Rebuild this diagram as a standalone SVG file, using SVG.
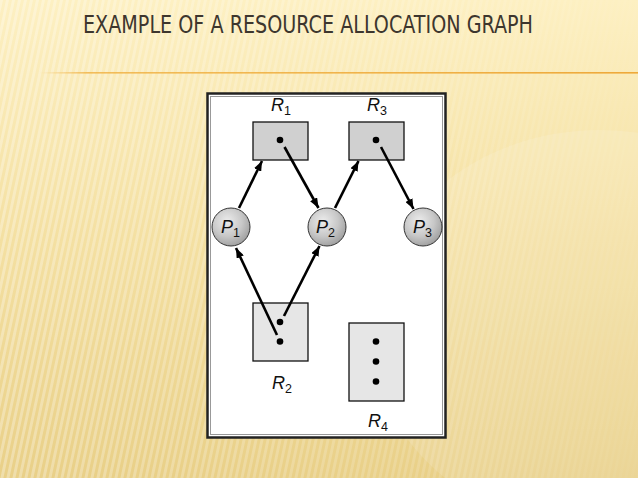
<svg xmlns="http://www.w3.org/2000/svg" width="638" height="478" viewBox="0 0 638 478">
<defs>
<linearGradient id="bg" x1="0" y1="0" x2="0" y2="1">
<stop offset="0" stop-color="#fdf0c2"/>
<stop offset="0.5" stop-color="#f4e0a2"/>
<stop offset="1" stop-color="#e9d088"/>
</linearGradient>
<pattern id="stripes" width="6" height="40" patternUnits="userSpaceOnUse" patternTransform="skewX(-12)">
<rect x="0" y="0" width="3" height="40" fill="#ffffff" opacity="0.3"/>
</pattern>
<linearGradient id="fadeL" x1="0" y1="0" x2="1" y2="0">
<stop offset="0" stop-color="#fff" stop-opacity="1"/>
<stop offset="0.7" stop-color="#fff" stop-opacity="0.45"/>
<stop offset="1" stop-color="#fff" stop-opacity="0.1"/>
</linearGradient>
<mask id="stripeMask"><rect x="0" y="0" width="638" height="478" fill="url(#fadeL)"/></mask>
<linearGradient id="rule" x1="0" y1="0" x2="1" y2="0">
<stop offset="0" stop-color="#f2b449" stop-opacity="0"/>
<stop offset="0.08" stop-color="#f0b040" stop-opacity="0.8"/>
<stop offset="1" stop-color="#eea93a"/>
</linearGradient>
<radialGradient id="ball" cx="0.4" cy="0.35" r="0.65">
<stop offset="0" stop-color="#ececec"/>
<stop offset="0.6" stop-color="#c8c8c8"/>
<stop offset="1" stop-color="#a3a3a3"/>
</radialGradient>
<marker id="ah" viewBox="0 0 10 8" refX="10" refY="4" markerWidth="10" markerHeight="8" markerUnits="userSpaceOnUse" orient="auto">
<path d="M0,0 L10,4 L0,8 Z" fill="#000"/>
</marker>
<style>
.title{font-family:"DejaVu Sans Condensed","Liberation Sans",Arial,sans-serif;font-stretch:condensed;font-size:25px;fill:#3d362e;}
.res1{fill:#d0d0d0;stroke:#111;stroke-width:1.3;}
.res2{fill:#e6e6e6;stroke:#111;stroke-width:1.3;}
.proc{fill:url(#ball);stroke:#333;stroke-width:1;}
.dot{fill:#000;}
.lbl{font-family:"Liberation Sans",Arial,sans-serif;font-style:italic;font-size:18px;fill:#111;}
.sub{font-size:12.5px;font-style:normal;}
.edge{stroke:#000;stroke-width:2.6;fill:none;marker-end:url(#ah);}
</style>
</defs>
<rect x="0" y="0" width="638" height="478" fill="url(#bg)"/>
<rect x="0" y="0" width="638" height="478" fill="url(#stripes)" mask="url(#stripeMask)"/>
<ellipse cx="600" cy="330" rx="230" ry="200" fill="#ffffff" opacity="0.12"/>
<text class="title" x="83" y="33" textLength="450" lengthAdjust="spacingAndGlyphs">EXAMPLE OF A RESOURCE ALLOCATION GRAPH</text>
<rect x="40" y="72" width="598" height="1.6" fill="url(#rule)"/>

<g id="frame">
<rect x="207.5" y="93.5" width="238" height="344" fill="#ffffff" stroke="#222" stroke-width="2.5"/>
<rect x="210.5" y="96.5" width="232" height="338" fill="none" stroke="#999" stroke-width="1"/>
</g>

<g id="R1">
<rect class="res1" x="253" y="122" width="55" height="38"/>
<circle class="dot" cx="280" cy="140" r="3.3"/>
<text class="lbl" x="271" y="111">R<tspan class="sub" dy="4">1</tspan></text>
</g>
<g id="R3">
<rect class="res1" x="349" y="122" width="55" height="38"/>
<circle class="dot" cx="376" cy="140" r="3.3"/>
<text class="lbl" x="367" y="111">R<tspan class="sub" dy="4">3</tspan></text>
</g>
<g id="R2">
<rect class="res2" x="253" y="303" width="55" height="58"/>
<circle class="dot" cx="280" cy="322" r="3.3"/>
<circle class="dot" cx="280" cy="341.5" r="3.3"/>
<text class="lbl" x="272" y="389">R<tspan class="sub" dy="4">2</tspan></text>
</g>
<g id="R4">
<rect class="res2" x="349" y="323" width="55" height="78"/>
<circle class="dot" cx="376" cy="341.5" r="3.3"/>
<circle class="dot" cx="376" cy="361.5" r="3.3"/>
<circle class="dot" cx="376" cy="381.5" r="3.3"/>
<text class="lbl" x="368" y="427">R<tspan class="sub" dy="4">4</tspan></text>
</g>
<g id="P1">
<circle class="proc" cx="231" cy="227" r="19"/>
<text class="lbl" x="221" y="233">P<tspan class="sub" dy="4">1</tspan></text>
</g>
<g id="P2">
<circle class="proc" cx="327" cy="227" r="19"/>
<text class="lbl" x="316" y="233">P<tspan class="sub" dy="4">2</tspan></text>
</g>
<g id="P3">
<circle class="proc" cx="423" cy="227" r="19"/>
<text class="lbl" x="413" y="233">P<tspan class="sub" dy="4">3</tspan></text>
</g>

<g id="connectors">
<line class="edge" x1="239" y1="208" x2="262" y2="161"/>
<line class="edge" x1="284.5" y1="147" x2="318.5" y2="208"/>
<line class="edge" x1="335" y1="208" x2="358.5" y2="161"/>
<line class="edge" x1="381" y1="147" x2="413.5" y2="209"/>
<line class="edge" x1="277" y1="335" x2="236" y2="248"/>
<line class="edge" x1="284" y1="316" x2="319.5" y2="246"/>
</g>
</svg>
